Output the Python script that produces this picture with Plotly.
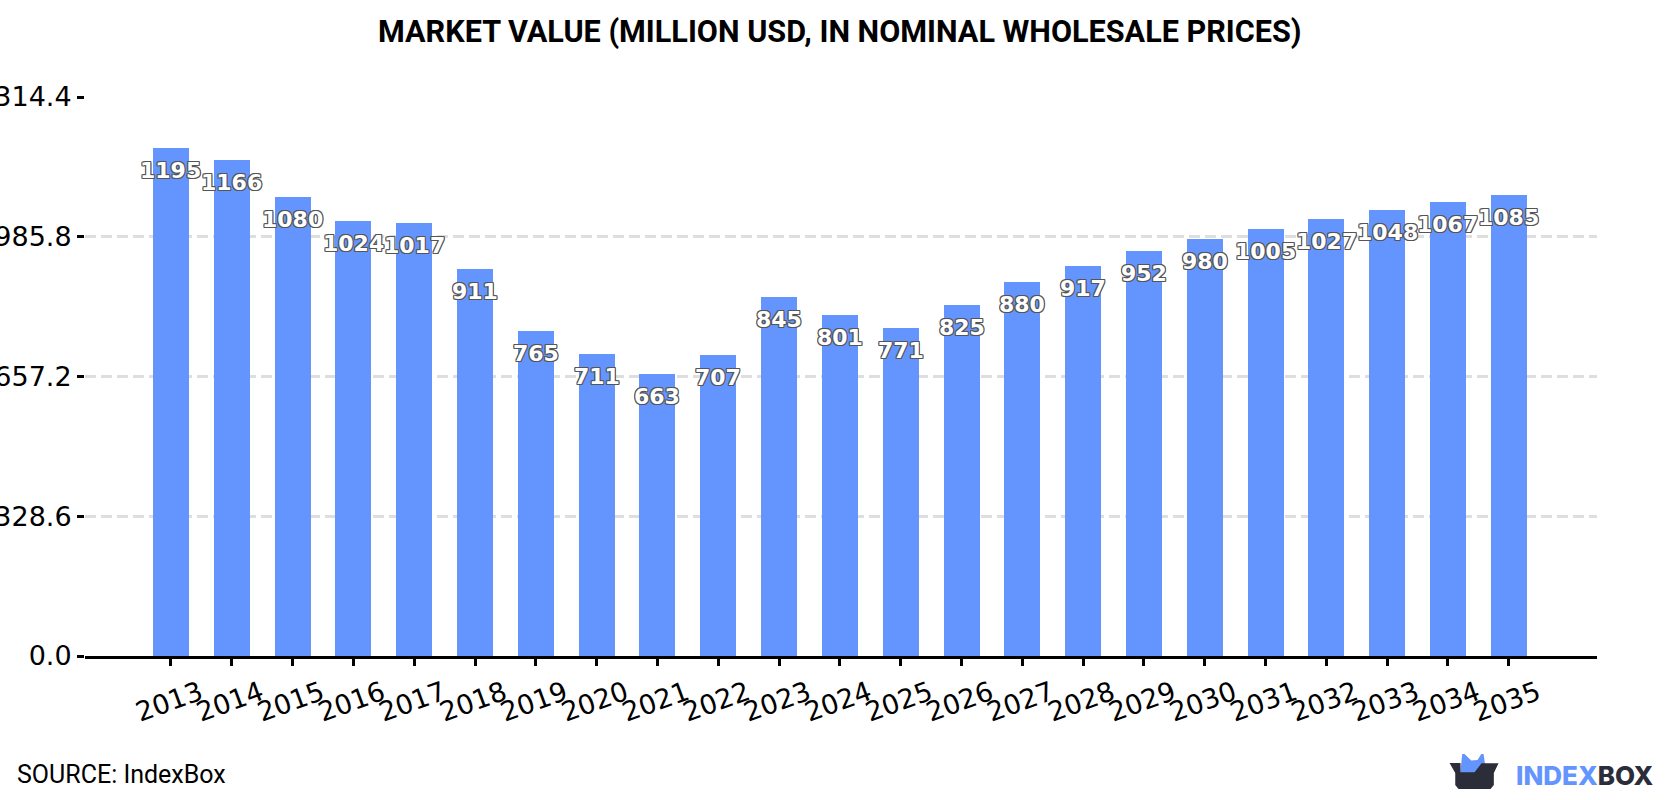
import plotly.graph_objects as go

years = [2013, 2014, 2015, 2016, 2017, 2018, 2019, 2020, 2021, 2022, 2023, 2024,
         2025, 2026, 2027, 2028, 2029, 2030, 2031, 2032, 2033, 2034, 2035]
values = [1195, 1166, 1080, 1024, 1017, 911, 765, 711, 663, 707, 845, 801,
          771, 825, 880, 917, 952, 980, 1005, 1027, 1048, 1067, 1085]
y_ticks = [0.0, 328.6, 657.2, 985.8, 1314.4]
y_tick_labels = ["0.0", "328.6", "657.2", "985.8", "1314.4"]

W, H = 1680, 800
L, R, T, B = 85, 1597.5, 96.5, 656
BAR = "#6495ff"
DARK = "#2b2d38"
OUTLINE = "#555555"
halo = ", ".join(f"{a}px {b}px 0 {OUTLINE}" for a in (-1, 0, 1) for b in (-1, 0, 1) if a or b)

positions = [y - years[0] for y in years]


def px(x):
    return (x - L) / (R - L)


def py(y):
    return (B - y) / (B - T)


def logo_path(points):
    return "M " + " L ".join(f"{px(x):.5f} {py(y):.5f}" for x, y in points) + " Z"


fig = go.Figure(go.Bar(x=positions, y=values, width=0.592, marker_color=BAR,
                       marker_line_width=0, hoverinfo="skip"))

# Value labels sit a fixed distance below each bar's top
for pos, val in zip(positions, values):
    fig.add_annotation(x=pos, y=val, xref="x", yref="y", text=str(val), showarrow=False,
                       yshift=-22.5, xanchor="center", yanchor="middle",
                       font=dict(family="DejaVu Sans", size=22, color="white",
                                 weight="bold", shadow=halo))

fig.add_annotation(x=0.5, y=1, xref="paper", yref="paper", text="MARKET VALUE (MILLION USD, IN NOMINAL WHOLESALE PRICES)",
                   showarrow=False, xanchor="center", yanchor="middle", yshift=(T - 31),
                   xshift=(W / 2 - (L + R) / 2),
                   font=dict(family="Roboto", size=30.6, color="black", weight="bold"))
fig.add_annotation(x=px(15), y=py(775), xref="paper", yref="paper", text="SOURCE: IndexBox",
                   showarrow=False, xanchor="left", yanchor="middle",
                   font=dict(family="Roboto", size=25, color="black"))
fig.add_annotation(x=px(1514.5), y=py(775.5), xref="paper", yref="paper",
                   text=f'<span style="color:{BAR}">INDEX</span><span style="color:{DARK}">BOX</span>',
                   showarrow=False, xanchor="left", yanchor="middle",
                   font=dict(family="Inter", size=26, weight=800))

# Logo: blue ears behind a dark box
fig.add_shape(type="path", xref="paper", yref="paper", line_width=0, fillcolor=BAR,
              path=logo_path([(1460.7, 773), (1462.7, 754), (1465, 754), (1471.7, 760.7), (1478, 760),
                              (1481.7, 754), (1484, 754), (1485.5, 764), (1480, 773)]))
fig.add_shape(type="path", xref="paper", yref="paper", line_width=0, fillcolor=DARK,
              path=logo_path([(1450, 763), (1461, 763), (1461, 772.3), (1475, 772.3), (1482, 763.3),
                              (1499, 763.3), (1494.3, 773), (1494.3, 785), (1491, 789), (1459, 789),
                              (1455.7, 785), (1455.7, 773)]))

fig.update_layout(
    width=W, height=H,
    margin=dict(l=L, r=W - R, t=T, b=H - B, autoexpand=False),
    paper_bgcolor="white", plot_bgcolor="white",
    showlegend=False, bargap=0,
    xaxis=dict(range=[(L - 171) / 60.83, (R - 171) / 60.83], tickmode="array",
               tickvals=positions, ticktext=[str(y) for y in years], tickangle=-20,
               ticks="outside", ticklen=7, tickwidth=2.5, tickcolor="black",
               showline=True, linecolor="black", linewidth=3, showgrid=False, zeroline=False,
               ticklabelshift=29, ticklabelstandoff=1,
               tickfont=dict(family="DejaVu Sans", size=27, color="black")),
    yaxis=dict(range=[0, 1314.4], tickmode="array", tickvals=y_ticks, ticktext=y_tick_labels,
               ticks="outside", ticklen=7, tickwidth=2.5, tickcolor="black",
               showline=False, zeroline=False, showgrid=True, gridcolor="#dedede", gridwidth=2.5,
               griddash="11px,5px",
               tickfont=dict(family="DejaVu Sans", size=27, color="black")),
)

fig.write_html("out.html")
